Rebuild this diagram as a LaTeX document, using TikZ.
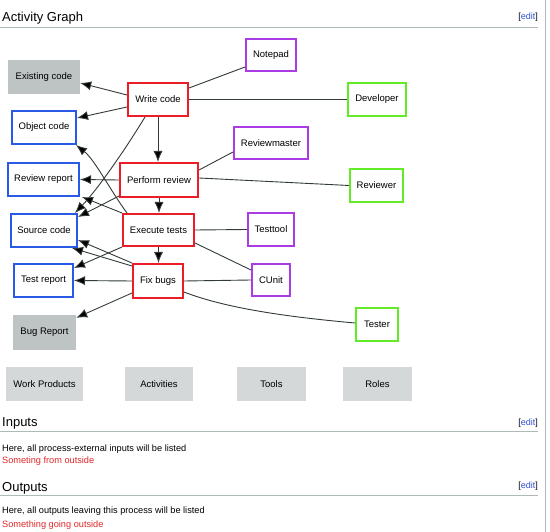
\documentclass[tikz,border=0pt]{standalone}
\usepackage{fontspec}
\setmainfont{Liberation Sans}
\usetikzlibrary{arrows.meta}
\definecolor{actred}{RGB}{235,30,40}
\definecolor{wpblue}{RGB}{40,90,230}
\definecolor{toolpurple}{RGB}{170,60,230}
\definecolor{rolegreen}{RGB}{100,235,40}
\definecolor{grayfill}{RGB}{190,196,196}
\definecolor{legendfill}{RGB}{212,216,216}
\definecolor{edgecol}{RGB}{50,58,58}
\definecolor{rulecol}{RGB}{175,185,185}
\definecolor{linkblue}{RGB}{50,80,210}
\definecolor{textred}{RGB}{225,40,40}
\tikzset{
  base/.style={inner sep=0pt, font=\fontsize{9.5}{11}\selectfont, text=black},
  act/.style={base, draw=actred, line width=2pt, fill=white},
  wp/.style={base, draw=wpblue, line width=2pt, fill=white},
  tool/.style={base, draw=toolpurple, line width=2pt, fill=white},
  role/.style={base, draw=rolegreen, line width=2pt, fill=white},
  ext/.style={base, fill=grayfill},
  legend/.style={base, fill=legendfill},
  arr/.style={draw=edgecol, line width=0.9pt, -{Latex[length=11pt,width=9pt,fill=black]}},
  lnk/.style={draw=edgecol, line width=0.9pt},
  heading/.style={anchor=base west, inner sep=0pt, font=\fontsize{13}{15}\selectfont},
  body/.style={anchor=base west, inner sep=0pt, font=\fontsize{9.2}{10}\selectfont, text=black},
  editlink/.style={anchor=base east, inner sep=0pt, font=\fontsize{9}{10}\selectfont}
}
\begin{document}
\begin{tikzpicture}[x=1pt,y=-1pt]
\useasboundingbox (0,0) rectangle (550,532);
\fill[white] (0,0) rectangle (550,532);
\draw[rulecol, line width=0.8pt] (545.5,0) -- (545.5,532);

% headings
\node[heading] (h1) at (2,22) {Activity Graph};
\draw[rulecol, line width=1pt] (0,27.5) -- (538,27.5);
\node[editlink] (e1) at (538,20) {[\textcolor{linkblue}{edit}]};

% nodes
\node[ext, minimum width=72pt, minimum height=34pt] (existing) at (44,77) {Existing code};
\node[act, minimum width=60pt, minimum height=33pt] (write) at (158,99.5) {Write code};
\node[wp, minimum width=64pt, minimum height=33pt] (object) at (44,127.5) {Object code};
\node[tool, minimum width=50pt, minimum height=32pt] (notepad) at (271,55) {Notepad};
\node[role, minimum width=58pt, minimum height=33pt] (developer) at (377,99.5) {Developer};
\node[tool, minimum width=74pt, minimum height=32pt] (reviewmaster) at (271,143) {Reviewmaster};
\node[act, minimum width=78pt, minimum height=34pt] (perform) at (159,180) {Perform review};
\node[wp, minimum width=71pt, minimum height=33pt] (reviewreport) at (43.5,179.5) {Review report};
\node[role, minimum width=53pt, minimum height=33pt] (reviewer) at (376.5,185.5) {Reviewer};
\node[act, minimum width=71pt, minimum height=32pt] (execute) at (158.5,230) {Execute tests};
\node[wp, minimum width=66pt, minimum height=33pt] (source) at (44,230.5) {Source code};
\node[tool, minimum width=46pt, minimum height=33pt] (testtool) at (271,229.5) {Testtool};
\node[act, minimum width=50pt, minimum height=34pt] (fixbugs) at (158,281) {Fix bugs};
\node[wp, minimum width=59pt, minimum height=33pt] (testreport) at (43.5,280.5) {Test report};
\node[tool, minimum width=38pt, minimum height=32pt] (cunit) at (271,280) {CUnit};
\node[role, minimum width=42pt, minimum height=33pt] (tester) at (377,324.5) {Tester};
\node[ext, minimum width=63pt, minimum height=35pt] (bugreport) at (44.5,332.5) {Bug Report};

% legend
\node[legend, minimum width=77pt, minimum height=34pt] (lwp) at (44.5,384) {Work Products};
\node[legend, minimum width=68pt, minimum height=34pt] (lact) at (159,384) {Activities};
\node[legend, minimum width=69pt, minimum height=34pt] (ltool) at (271.5,384) {Tools};
\node[legend, minimum width=69pt, minimum height=34pt] (lrole) at (377.5,384) {Roles};

% connectors
\draw[arr] ([yshift=4.5pt]write.west) -- ([yshift=-6pt]existing.east);
\draw[arr] ([yshift=-7.5pt]write.west) -- ([yshift=9.5pt]object.east);
\draw[arr] (write.south) -- (write.south |- perform.north);
\draw[lnk] ([yshift=11.5pt]write.east) -- ([yshift=-12pt]notepad.west);
\draw[lnk] (write.east) -- (developer.west);
\draw[arr] ([xshift=-13pt]write.south) .. controls (125,150) and (97,190) .. ([xshift=-3pt]source.north east);
\draw[arr] ([xshift=5pt]execute.north west) .. controls (110,190) and (95,160) .. ([xshift=-1pt]object.south east);
\draw[arr] (perform.west) -- (reviewreport.east);
\draw[arr] ([yshift=2pt]perform.south west) -- ([yshift=-4pt]source.north east);
\draw[arr] (execute.north west) -- ([xshift=2pt]reviewreport.south east);
\draw[arr] (perform.south) -- (perform.south |- execute.north);
\draw[lnk] ([yshift=10pt]perform.east) -- ([yshift=-9pt]reviewmaster.west);
\draw[lnk] ([yshift=2pt]perform.east) -- (reviewer.west);
\draw[arr] (execute.south) -- (execute.south |- fixbugs.north);
\draw[lnk] (execute.east) -- (testtool.west);
\draw[lnk] ([yshift=-13pt]execute.east) -- ([yshift=10pt]cunit.west);
\draw[arr] (execute.south west) -- ([yshift=-5pt]testreport.north east);
\draw[arr] (fixbugs.north west) -- ([yshift=-9.5pt]source.east);
\draw[arr] ([yshift=-3pt]fixbugs.north west) -- ([xshift=-6pt]source.south east);
\draw[arr] (fixbugs.west) -- (testreport.east);
\draw[lnk] (fixbugs.east) -- (cunit.west);
\draw[arr] ([yshift=-12pt]fixbugs.west) -- ([yshift=-3pt]bugreport.north east);
\draw[lnk] ([yshift=-11pt]fixbugs.east) .. controls (230,310) and (300,318) .. ([yshift=1.5pt]tester.west);

% Inputs
\node[heading] (h2) at (2,427) {Inputs};
\draw[rulecol, line width=1pt] (0,432) -- (538,432);
\node[editlink] (e2) at (538,426) {[\textcolor{linkblue}{edit}]};
\node[body] (t1) at (2,451) {Here, all process-external inputs will be listed};
\node[body, text=textred] (t2) at (2,464) {Someting from outside};

% Outputs
\node[heading] (h3) at (2,491) {Outputs};
\draw[rulecol, line width=1pt] (0,495) -- (538,495);
\node[editlink] (e3) at (538,489) {[\textcolor{linkblue}{edit}]};
\node[body] (t3) at (2,513) {Here, all outputs leaving this process will be listed};
\node[body, text=textred] (t4) at (2,527) {Something going outside};
\end{tikzpicture}
\end{document}
